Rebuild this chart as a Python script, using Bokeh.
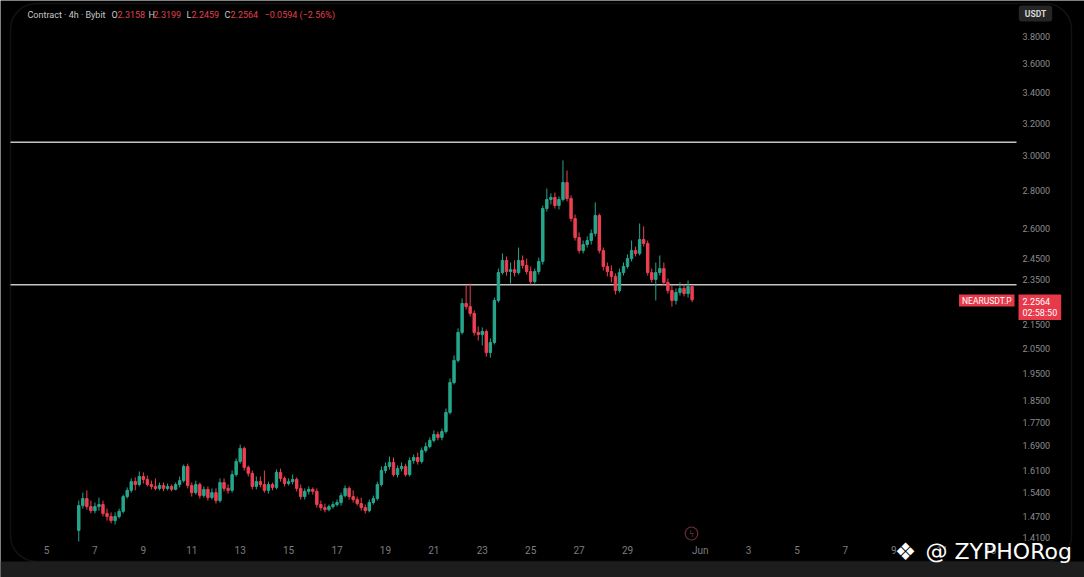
import pandas as pd
from bokeh.plotting import figure
from bokeh.models import (ColumnDataSource, Range1d, FixedTicker, PrintfTickFormatter,
                          Label, BoxAnnotation)
from bokeh.embed import file_html
from bokeh.resources import INLINE

# ---------------- data ----------------
symbol = "NEARUSDT.P"
first_bar = "2025-05-06 08:00"   # 4h candles

opens = [1.429, 1.501, 1.522, 1.498, 1.486, 1.498, 1.504, 1.478, 1.469, 1.457,
         1.469, 1.484, 1.528, 1.547, 1.574, 1.565, 1.590, 1.581, 1.565, 1.559,
         1.553, 1.562, 1.553, 1.559, 1.550, 1.565, 1.577, 1.622, 1.562, 1.540,
         1.565, 1.531, 1.550, 1.525, 1.540, 1.516, 1.571, 1.553, 1.547, 1.596,
         1.638, 1.681, 1.619, 1.600, 1.559, 1.574, 1.565, 1.547, 1.565, 1.556,
         1.603, 1.584, 1.568, 1.574, 1.581, 1.553, 1.528, 1.544, 1.550, 1.544,
         1.504, 1.495, 1.489, 1.498, 1.504, 1.510, 1.531, 1.553, 1.528, 1.519,
         1.507, 1.495, 1.486, 1.510, 1.522, 1.565, 1.609, 1.622, 1.635, 1.596,
         1.615, 1.622, 1.596, 1.641, 1.651, 1.638, 1.674, 1.687, 1.708, 1.728,
         1.718, 1.738, 1.805, 1.915, 2.001, 2.115, 2.240, 2.226, 2.196, 2.115,
         2.106, 2.119, 2.032, 2.073, 2.253, 2.381, 2.439, 2.386, 2.395, 2.381,
         2.439, 2.415, 2.386, 2.339, 2.386, 2.434, 2.703, 2.752, 2.763, 2.719,
         2.752, 2.846, 2.757, 2.650, 2.552, 2.487, 2.517, 2.537, 2.573, 2.666,
         2.487, 2.410, 2.386, 2.363, 2.298, 2.381, 2.410, 2.448, 2.487, 2.473,
         2.542, 2.522, 2.381, 2.349, 2.381, 2.400, 2.335, 2.298, 2.253, 2.289,
         2.307, 2.284, 2.3158]

highs = [1.516, 1.540, 1.547, 1.516, 1.510, 1.525, 1.516, 1.492, 1.481, 1.481,
         1.492, 1.534, 1.556, 1.584, 1.587, 1.606, 1.603, 1.593, 1.577, 1.584,
         1.571, 1.571, 1.568, 1.565, 1.571, 1.590, 1.628, 1.631, 1.571, 1.577,
         1.571, 1.559, 1.559, 1.553, 1.553, 1.584, 1.584, 1.565, 1.609, 1.648,
         1.694, 1.687, 1.625, 1.609, 1.590, 1.590, 1.609, 1.574, 1.571, 1.612,
         1.615, 1.590, 1.584, 1.596, 1.587, 1.565, 1.553, 1.559, 1.556, 1.553,
         1.516, 1.507, 1.504, 1.513, 1.519, 1.540, 1.562, 1.559, 1.547, 1.528,
         1.525, 1.504, 1.519, 1.531, 1.574, 1.622, 1.635, 1.654, 1.651, 1.625,
         1.635, 1.631, 1.651, 1.661, 1.667, 1.684, 1.701, 1.718, 1.742, 1.738,
         1.748, 1.819, 1.931, 2.021, 2.132, 2.262, 2.321, 2.330, 2.209, 2.140,
         2.136, 2.127, 2.090, 2.266, 2.400, 2.473, 2.458, 2.429, 2.439, 2.502,
         2.463, 2.448, 2.410, 2.400, 2.453, 2.719, 2.812, 2.785, 2.790, 2.768,
         2.973, 2.914, 2.774, 2.671, 2.578, 2.537, 2.558, 2.593, 2.736, 2.676,
         2.502, 2.429, 2.415, 2.377, 2.400, 2.429, 2.468, 2.537, 2.507, 2.624,
         2.609, 2.537, 2.400, 2.429, 2.463, 2.429, 2.353, 2.321, 2.307, 2.335,
         2.326, 2.344, 2.3199]

lows = [1.398, 1.492, 1.489, 1.478, 1.478, 1.486, 1.469, 1.457, 1.449, 1.446,
        1.463, 1.478, 1.522, 1.540, 1.547, 1.559, 1.568, 1.559, 1.550, 1.547,
        1.547, 1.544, 1.547, 1.544, 1.547, 1.556, 1.571, 1.553, 1.528, 1.534,
        1.522, 1.525, 1.516, 1.519, 1.507, 1.510, 1.544, 1.537, 1.540, 1.590,
        1.631, 1.609, 1.590, 1.550, 1.550, 1.556, 1.540, 1.537, 1.547, 1.550,
        1.574, 1.559, 1.562, 1.565, 1.544, 1.519, 1.519, 1.534, 1.534, 1.495,
        1.486, 1.481, 1.484, 1.492, 1.498, 1.501, 1.525, 1.519, 1.510, 1.501,
        1.486, 1.478, 1.481, 1.504, 1.516, 1.559, 1.600, 1.612, 1.590, 1.587,
        1.606, 1.590, 1.590, 1.631, 1.628, 1.631, 1.667, 1.681, 1.701, 1.708,
        1.708, 1.731, 1.798, 1.908, 1.993, 2.106, 2.213, 2.183, 2.102, 2.081,
        2.061, 2.016, 2.012, 2.065, 2.244, 2.372, 2.367, 2.330, 2.363, 2.372,
        2.400, 2.372, 2.325, 2.330, 2.372, 2.419, 2.687, 2.725, 2.703, 2.698,
        2.741, 2.741, 2.634, 2.537, 2.473, 2.473, 2.502, 2.517, 2.558, 2.473,
        2.391, 2.363, 2.335, 2.280, 2.289, 2.367, 2.400, 2.434, 2.458, 2.463,
        2.507, 2.367, 2.335, 2.253, 2.367, 2.321, 2.284, 2.226, 2.235, 2.275,
        2.271, 2.266, 2.2459]

closes = [1.501, 1.522, 1.498, 1.486, 1.498, 1.504, 1.478, 1.469, 1.457, 1.469,
          1.484, 1.528, 1.547, 1.574, 1.565, 1.590, 1.581, 1.565, 1.559, 1.553,
          1.562, 1.553, 1.559, 1.550, 1.565, 1.577, 1.622, 1.562, 1.540, 1.565,
          1.531, 1.550, 1.525, 1.540, 1.516, 1.571, 1.553, 1.547, 1.596, 1.638,
          1.681, 1.619, 1.600, 1.559, 1.574, 1.565, 1.547, 1.565, 1.556, 1.603,
          1.584, 1.568, 1.574, 1.581, 1.553, 1.528, 1.544, 1.550, 1.544, 1.504,
          1.495, 1.489, 1.498, 1.504, 1.510, 1.531, 1.553, 1.528, 1.519, 1.507,
          1.495, 1.486, 1.510, 1.522, 1.565, 1.609, 1.622, 1.635, 1.596, 1.615,
          1.622, 1.596, 1.641, 1.651, 1.638, 1.674, 1.687, 1.708, 1.728, 1.718,
          1.738, 1.805, 1.915, 2.001, 2.115, 2.240, 2.226, 2.196, 2.115, 2.106,
          2.119, 2.032, 2.073, 2.253, 2.381, 2.439, 2.386, 2.395, 2.381, 2.439,
          2.415, 2.386, 2.339, 2.386, 2.434, 2.703, 2.752, 2.763, 2.719, 2.752,
          2.846, 2.757, 2.650, 2.552, 2.487, 2.517, 2.537, 2.573, 2.666, 2.487,
          2.410, 2.386, 2.363, 2.298, 2.381, 2.410, 2.448, 2.487, 2.473, 2.542,
          2.522, 2.381, 2.349, 2.381, 2.400, 2.335, 2.298, 2.253, 2.289, 2.307,
          2.284, 2.3158, 2.2564]

y_ticks = [1.41, 1.47, 1.54, 1.61, 1.69, 1.77, 1.85, 1.95, 2.05, 2.15,
           2.35, 2.45, 2.60, 2.80, 3.00, 3.20, 3.40, 3.60, 3.80]

x_tick_dates = ["2025-05-05", "2025-05-07", "2025-05-09", "2025-05-11", "2025-05-13",
                "2025-05-15", "2025-05-17", "2025-05-19", "2025-05-21", "2025-05-23",
                "2025-05-25", "2025-05-27", "2025-05-29", "2025-06-01", "2025-06-03",
                "2025-06-05", "2025-06-07", "2025-06-09", "2025-06-11", "2025-06-13"]
x_tick_labels = ["5", "7", "9", "11", "13", "15", "17", "19", "21", "23", "25", "27",
                 "29", "Jun", "3", "5", "7", "9", "11", "13"]

levels = [3.0826, 2.3240]          # horizontal lines drawn on the chart
pane_start, pane_end = "2025-05-03 12:19", "2025-06-14 01:35"   # price pane span
countdown = "02:58:50"
watermark = "@ ZYPHORog"

# ---------------- build ----------------
W, H = 1084, 577
UP, DOWN = "#26a68c", "#ee3f52"
times = pd.date_range(first_bar, periods=len(closes), freq="4h")
colors = [UP if c >= o else DOWN for o, c in zip(opens, closes)]
src = ColumnDataSource(dict(
    t=times, o=opens, h=highs, l=lows, c=closes,
    top=[max(o, c) for o, c in zip(opens, closes)],
    bot=[min(o, c) for o, c in zip(opens, closes)],
    color=colors))

p = figure(width=W, height=H, x_axis_type="datetime", y_axis_type="log",
           y_axis_location="right",
           x_range=Range1d(pd.Timestamp("2025-05-03 02:24"), pd.Timestamp("2025-06-16 21:00")),
           y_range=Range1d(1.3018, 4.0807),
           output_backend="svg", toolbar_location=None,
           background_fill_color="#000000", border_fill_color="#000000",
           outline_line_color=None,
           min_border_left=0, min_border_right=0, min_border_top=0, min_border_bottom=0)
p.grid.visible = False

# screen surroundings (under the data)
p.add_layout(BoxAnnotation(left=0, right=W, bottom=0, top=H - 561,
                           left_units="screen", right_units="screen",
                           top_units="screen", bottom_units="screen",
                           fill_color="#1d1d1d", fill_alpha=1, line_color=None,
                           level="underlay"))
p.add_layout(BoxAnnotation(left=10, right=1071, top=H - 3, bottom=H - 561,
                           left_units="screen", right_units="screen",
                           top_units="screen", bottom_units="screen",
                           fill_color="#000000", fill_alpha=1, line_color="#3a3a3a",
                           line_width=1.5, border_radius=26, level="underlay"))

# horizontal levels across the price pane
t0, t1 = pd.Timestamp(pane_start), pd.Timestamp(pane_end)
p.segment(x0=[t0] * len(levels), x1=[t1] * len(levels), y0=levels, y1=levels,
          line_color="#c4c4c4", line_width=1.5)

bar_ms = 4 * 3600 * 1000
p.segment(x0="t", y0="l", x1="t", y1="h", line_color="color", line_width=1, source=src)
p.vbar(x="t", width=bar_ms * 0.6, top="top", bottom="bot", fill_color="color",
       line_color="color", line_width=1, source=src)

x_tick_ms = [int(pd.Timestamp(d).value // 10**6) for d in x_tick_dates]
xa = p.xaxis[0]
xa.fixed_location = 1.3954
xa.ticker = FixedTicker(ticks=x_tick_ms, minor_ticks=[])
xa.major_label_overrides = {ms: lab for ms, lab in zip(x_tick_ms, x_tick_labels)}
xa.axis_line_color = None
xa.major_tick_line_color = None
xa.minor_tick_line_color = None
xa.major_tick_out = 0
xa.major_tick_in = 0
xa.major_label_standoff = 3
xa.major_label_text_color = "#7d7d7d"
xa.major_label_text_font = "Roboto"
xa.major_label_text_font_size = "10px"

ya = p.yaxis[0]
ya.fixed_location = int(t1.value // 10**6)
ya.ticker = FixedTicker(ticks=y_ticks, minor_ticks=[])
ya.formatter = PrintfTickFormatter(format="%.4f")
ya.axis_line_color = None
ya.major_tick_line_color = None
ya.minor_tick_line_color = None
ya.major_tick_out = 0
ya.major_tick_in = 0
ya.major_label_standoff = 6
ya.major_label_text_color = "#8c8c8c"
ya.major_label_text_font = "Roboto"
ya.major_label_text_font_size = "9px"


def lab(text, px, py, **kw):
    base = dict(x_units="screen", y_units="screen", text_font="Roboto",
                text_font_size="9px", text_baseline="middle")
    base.update(kw)
    p.add_layout(Label(x=px, y=H - py, text=text, **base))


# header row
o_, h_, l_, c_ = opens[-1], highs[-1], lows[-1], closes[-1]
chg = c_ - o_
red = "#e0404f"
grey = "#c8c8c8"
lab("Contract · 4h · Bybit", 27, 14, text_color=grey)
lab("O", 111, 14, text_color=grey)
lab(f"{o_:.4f}", 117, 14, text_color=red)
lab("H", 148, 14, text_color=grey)
lab(f"{h_:.4f}", 153, 14, text_color=red)
lab("L", 186, 14, text_color=grey)
lab(f"{l_:.4f}", 191, 14, text_color=red)
lab("C", 224, 14, text_color=grey)
lab(f"{c_:.4f}", 230, 14, text_color=red)
lab(f"{chg:.4f} ({chg / o_ * 100:.2f}%)".replace("-", "−"), 264, 14, text_color=red)

# axis currency box
lab("USDT", 1035, 13, text_align="center", text_color="#d8d8d8", text_font_style="bold",
    text_font_size="8.5px", background_fill_color="#262626", padding=(6, 3), border_radius=3)

# last price tags
lab(symbol, 1014, 300, text_align="right", text_color="#ffffff", text_font_size="8.5px",
    background_fill_color="#e8394a", padding=(3, 1))
lab(f"{c_:.4f}\n{countdown}", 1018, 294, text_align="left", text_baseline="top",
    text_color="#ffffff", text_font_size="9px", background_fill_color="#e8394a",
    padding=(4, 2), text_line_height=1.15)

# small event marker
lab("ϟ", 691, 533, text_align="center", text_color="#9a4452", text_font_size="10px",
    border_line_color="#6a2d38", border_line_width=1.2, border_radius=8, padding=(4, 1))

# watermark
lab("❖", 905, 551, text_align="center", text_color="#ffffff", text_font="DejaVu Sans",
    text_font_size="24px")
lab(watermark, 925, 551, text_align="left", text_color="#ffffff", text_font="DejaVu Sans",
    text_font_size="22px")

open("out.html", "w").write(file_html(p, INLINE))
